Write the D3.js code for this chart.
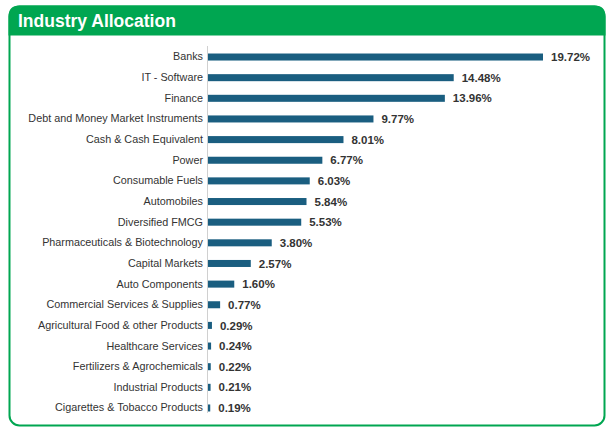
<!DOCTYPE html>
<html>
<head>
<meta charset="utf-8">
<script src="https://cdn.jsdelivr.net/npm/d3@7"></script>
<style>
  body { margin: 0; background: #fff; }
  svg { display: block; font-family: "Liberation Sans", Arial, sans-serif; }
</style>
</head>
<body>
<svg id="chart"></svg>
<script>
// industry names and weights (%)
const industries = [
    "Banks", "IT - Software", "Finance", "Debt and Money Market Instruments",
    "Cash & Cash Equivalent", "Power", "Consumable Fuels", "Automobiles",
    "Diversified FMCG", "Pharmaceuticals & Biotechnology", "Capital Markets",
    "Auto Components", "Commercial Services & Supplies",
    "Agricultural Food & other Products", "Healthcare Services",
    "Fertilizers & Agrochemicals", "Industrial Products",
    "Cigarettes & Tobacco Products"
];
const weights = [19.72, 14.48, 13.96, 9.77, 8.01, 6.77, 6.03, 5.84, 5.53,
                 3.80, 2.57, 1.60, 0.77, 0.29, 0.24, 0.22, 0.21, 0.19];

const width = 613, height = 431;
const margin = { top: 47, right: 60, bottom: 13, left: 207 };

const svg = d3.select("#chart").attr("width", width).attr("height", height);

// card with green border and header
const card = { x: 9.5, y: 6.5, w: 595, h: 419, r: 10 };
svg.append("rect")
    .attr("x", card.x).attr("y", card.y)
    .attr("width", card.w).attr("height", card.h)
    .attr("rx", card.r)
    .attr("fill", "#fff")
    .attr("stroke", "#00a651")
    .attr("stroke-width", 2);

// header band: rounded top, square bottom
const hh = 28;
svg.append("path")
    .attr("d", `M${card.x},${card.y + hh} V${card.y + card.r} Q${card.x},${card.y} ${card.x + card.r},${card.y}
                H${card.x + card.w - card.r} Q${card.x + card.w},${card.y} ${card.x + card.w},${card.y + card.r}
                V${card.y + hh} Z`)
    .attr("fill", "#00a651")
    .attr("stroke", "#00a651")
    .attr("stroke-width", 2);

svg.append("text")
    .attr("x", 18).attr("y", 27)
    .attr("fill", "#fff")
    .style("font-size", "17.5px")
    .style("font-weight", "bold")
    .text("Industry Allocation");

const xScale = d3.scaleLinear()
    .domain([0, 19.72])
    .range([margin.left, 543]);

const yScale = d3.scaleBand()
    .domain(industries)
    .range([46.7, 418.3])
    .paddingInner(0.66)
    .paddingOuter(0.33);

const data = industries.map((name, i) => ({ name: name, value: weights[i] }));

// bars
svg.append("g")
    .selectAll("rect")
    .data(data)
    .enter().append("rect")
    .attr("x", xScale(0))
    .attr("y", d => yScale(d.name))
    .attr("width", d => xScale(d.value) - xScale(0))
    .attr("height", yScale.bandwidth())
    .attr("fill", "#1a5e80");

// axis line on the left
const yAxis = svg.append("g")
    .attr("transform", `translate(${margin.left},0)`)
    .call(d3.axisLeft(yScale).tickSize(0).tickPadding(4));
yAxis.select(".domain").attr("stroke", "#d0d0d0").attr("d", `M0.5,${margin.top - 1}V${height - margin.bottom - 5}`);
yAxis.selectAll("text")
    .attr("fill", "#333")
    .style("font-size", "10.8px")
    .style("font-family", "'Liberation Sans', Arial, sans-serif");

// value labels
svg.append("g")
    .selectAll("text")
    .data(data)
    .enter().append("text")
    .attr("x", d => xScale(d.value) + 8)
    .attr("y", d => yScale(d.name) + yScale.bandwidth() / 2)
    .attr("dy", "0.36em")
    .attr("fill", "#333")
    .style("font-size", "11.5px")
    .style("font-weight", "bold")
    .text(d => d.value.toFixed(2) + "%");
</script>
</body>
</html>
